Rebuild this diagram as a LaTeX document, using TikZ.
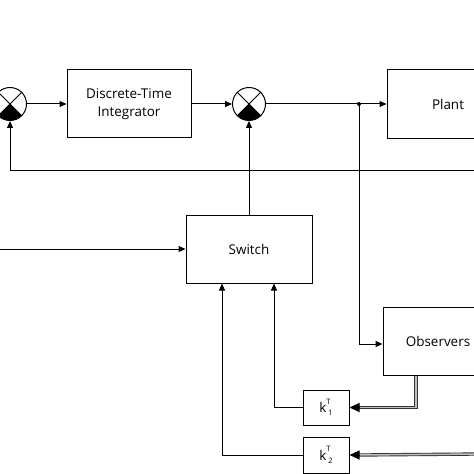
\documentclass[tikz,border=0pt]{standalone}
\usepackage{fontspec}
\setmainfont{Open Sans}
\usetikzlibrary{arrows.meta}
\begin{document}
\begin{tikzpicture}[x=1bp,y=-1bp,line width=1bp,
  blk/.style={draw,rectangle,inner sep=0pt,align=center,font=\fontsize{13.5}{18}\selectfont},
  sumnode/.style={draw,circle,inner sep=0pt,minimum size=33bp},
  arr/.style={-{Triangle[length=7bp,width=6bp]}},
  dbl/.style={draw=black!80,double=black!25,double distance=1.5bp,line width=0.9bp},
  bigtip/.style={-{Triangle[length=10bp,width=9bp]},line width=0.9bp}]
\useasboundingbox (0,0) rectangle (474,474);
\clip (0,0) rectangle (474,474);
\newcommand{\kt}[1]{k\rlap{\raisebox{1.15ex}{\fontsize{7.5}{7.5}\selectfont T}}\hspace{2bp}\raisebox{-0.45ex}{\fontsize{7.5}{7.5}\selectfont #1}}
% nodes
\node[sumnode] (s1) at (10,104) {};
\node[blk,minimum width=124bp,minimum height=68bp] (int) at (129,104) {Discrete-Time\\Integrator};
\node[sumnode] (s2) at (249,104) {};
\node[blk,minimum width=122bp,minimum height=69bp] (plant) at (448,104) {Plant};
\node[blk,minimum width=126bp,minimum height=67bp] (sw) at (249,249.5) {Switch};
\node[blk,minimum width=110bp,minimum height=68bp] (obs) at (438,341) {Observers};
\node[blk,minimum width=46bp,minimum height=35bp] (k1) at (326,407.5) {\kt{1}};
\node[blk,minimum width=46bp,minimum height=36bp] (k2) at (326,455) {\kt{2}};
% sum decorations
\foreach \s in {s1,s2}{
  \draw (\s.45) -- (\s.-135);
  \draw (\s.135) -- (\s.-45);
  \fill (\s.center) -- ++(-135:16.5bp) arc[start angle=-135,end angle=-45,radius=16.5bp] -- cycle;
}
% coordinates
\coordinate (j) at (359,104);
\coordinate (fbR) at (480,171);
\coordinate (inL) at (-5,249);
\coordinate (dR) at (480,454);
% connectors
\draw[arr] (s1.east) -- (int.west);
\draw[arr] (int.east) -- (s2.west);
\draw (s2.east) -- (j);
\draw[arr] (j) -- (plant.west);
\fill (j) circle[radius=2bp];
\draw[arr] (fbR) -| (s1.south);
\draw[arr] (sw.north) -- (s2.south);
\draw[arr] (inL) -- (inL -| sw.west);
\draw[arr] (j) |- ([yshift=-3bp]obs.west);
\draw[dbl] ([xshift=-22bp]obs.south) |- ([xshift=9bp]k1.east);
\draw[bigtip] ([xshift=9bp]k1.east) -- (k1.east);
\draw[dbl] (dR) -- ([xshift=9bp]k2.east);
\draw[bigtip] ([xshift=9bp]k2.east) -- (k2.east);
\draw[arr] (k1.west) -| ([xshift=25bp]sw.south);
\draw[arr] (k2.west) -| ([xshift=-27bp]sw.south);
\end{tikzpicture}
\end{document}
